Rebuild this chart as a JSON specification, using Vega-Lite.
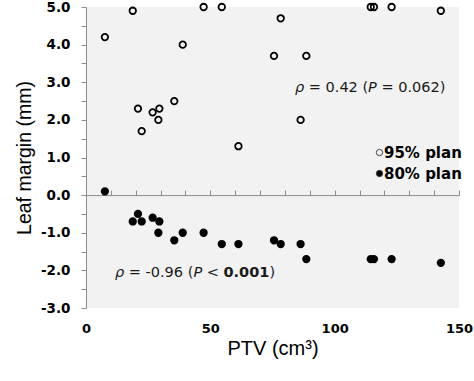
{
  "$schema": "https://vega.github.io/schema/vega-lite/v6.json",
  "width": 373,
  "height": 301,
  "autosize": "none",
  "padding": {"left": 86, "top": 7, "right": 15, "bottom": 73},
  "background": "white",
  "config": {
    "view": {"fill": "#f2f2f2", "stroke": null},
    "font": "DejaVu Sans"
  },
  "data": {
    "values": [
      {"ptv": 7.6, "margin": 4.2, "plan": "95% plan"},
      {"ptv": 18.8, "margin": 4.9, "plan": "95% plan"},
      {"ptv": 20.9, "margin": 2.3, "plan": "95% plan"},
      {"ptv": 22.4, "margin": 1.7, "plan": "95% plan"},
      {"ptv": 26.8, "margin": 2.2, "plan": "95% plan"},
      {"ptv": 29.1, "margin": 2.0, "plan": "95% plan"},
      {"ptv": 29.5, "margin": 2.3, "plan": "95% plan"},
      {"ptv": 35.5, "margin": 2.5, "plan": "95% plan"},
      {"ptv": 38.9, "margin": 4.0, "plan": "95% plan"},
      {"ptv": 47.3, "margin": 5.0, "plan": "95% plan"},
      {"ptv": 54.6, "margin": 5.0, "plan": "95% plan"},
      {"ptv": 61.3, "margin": 1.3, "plan": "95% plan"},
      {"ptv": 75.6, "margin": 3.7, "plan": "95% plan"},
      {"ptv": 78.3, "margin": 4.7, "plan": "95% plan"},
      {"ptv": 86.3, "margin": 2.0, "plan": "95% plan"},
      {"ptv": 88.6, "margin": 3.7, "plan": "95% plan"},
      {"ptv": 114.5, "margin": 5.0, "plan": "95% plan"},
      {"ptv": 115.8, "margin": 5.0, "plan": "95% plan"},
      {"ptv": 122.9, "margin": 5.0, "plan": "95% plan"},
      {"ptv": 142.7, "margin": 4.9, "plan": "95% plan"},
      {"ptv": 7.6, "margin": 0.1, "plan": "80% plan"},
      {"ptv": 18.8, "margin": -0.7, "plan": "80% plan"},
      {"ptv": 20.9, "margin": -0.5, "plan": "80% plan"},
      {"ptv": 22.4, "margin": -0.7, "plan": "80% plan"},
      {"ptv": 26.8, "margin": -0.6, "plan": "80% plan"},
      {"ptv": 29.1, "margin": -1.0, "plan": "80% plan"},
      {"ptv": 29.5, "margin": -0.7, "plan": "80% plan"},
      {"ptv": 35.5, "margin": -1.2, "plan": "80% plan"},
      {"ptv": 38.9, "margin": -1.0, "plan": "80% plan"},
      {"ptv": 47.3, "margin": -1.0, "plan": "80% plan"},
      {"ptv": 54.6, "margin": -1.3, "plan": "80% plan"},
      {"ptv": 61.3, "margin": -1.3, "plan": "80% plan"},
      {"ptv": 75.6, "margin": -1.2, "plan": "80% plan"},
      {"ptv": 78.3, "margin": -1.3, "plan": "80% plan"},
      {"ptv": 86.3, "margin": -1.3, "plan": "80% plan"},
      {"ptv": 88.6, "margin": -1.7, "plan": "80% plan"},
      {"ptv": 114.5, "margin": -1.7, "plan": "80% plan"},
      {"ptv": 115.8, "margin": -1.7, "plan": "80% plan"},
      {"ptv": 122.9, "margin": -1.7, "plan": "80% plan"},
      {"ptv": 142.7, "margin": -1.8, "plan": "80% plan"}
    ]
  },
  "resolve": {"axis": {"x": "independent"}},
  "encoding": {
    "x": {
      "field": "ptv", "type": "quantitative",
      "scale": {"domain": [0, 150], "nice": false, "zero": false},
      "axis": {
        "orient": "bottom", "values": [0, 50, 100, 150], "format": "d",
        "ticks": false, "domain": false, "grid": false, "labelFlush": false,
        "labelFont": "DejaVu Sans", "labelFontWeight": "bold", "labelFontSize": 13,
        "labelColor": "black", "labelPadding": 14,
        "title": "PTV (cm³)", "titleFont": "Liberation Sans", "titleFontSize": 20,
        "titleFontWeight": "normal", "titleColor": "black", "titlePadding": 3
      }
    },
    "y": {
      "field": "margin", "type": "quantitative",
      "scale": {"domain": [-3, 5], "nice": false, "zero": false},
      "axis": {
        "values": [-3, -2.5, -2, -1.5, -1, -0.5, 0, 0.5, 1, 1.5, 2, 2.5, 3, 3.5, 4, 4.5, 5],
        "labelExpr": "datum.value % 1 == 0 ? replace(format(datum.value, '.1f'), '\u2212', '-') : ''",
        "grid": false, "tickSize": 5, "tickColor": "#8c8c8c", "domainColor": "#8c8c8c",
        "labelFlush": false,
        "labelFont": "DejaVu Sans", "labelFontWeight": "bold", "labelFontSize": 13.5,
        "labelColor": "black", "labelPadding": 11,
        "title": "Leaf margin (mm)", "titleFont": "Liberation Sans", "titleFontSize": 19.5,
        "titleFontWeight": "normal", "titleColor": "black", "titlePadding": 6
      }
    }
  },
  "layer": [
    {
      "mark": {"type": "point", "opacity": 0},
      "encoding": {
        "x": {
          "field": "ptv", "type": "quantitative",
          "scale": {"domain": [0, 150], "nice": false, "zero": false},
          "axis": {
            "orient": "top", "offset": -188.1, "title": null, "labels": false,
            "values": [0, 10, 20, 30, 40, 50, 60, 70, 80, 90, 100, 110, 120, 130, 140, 150],
            "tickSize": 5, "tickColor": "#8c8c8c", "domainColor": "#8c8c8c",
            "grid": false
          }
        }
      }
    },
    {
      "mark": {"type": "point", "shape": "circle", "filled": true, "size": 42, "stroke": "black", "strokeWidth": 1.8, "opacity": 1},
      "encoding": {
        "fill": {
          "field": "plan", "type": "nominal",
          "scale": {"domain": ["95% plan", "80% plan"], "range": ["transparent", "black"]},
          "legend": {
            "title": null, "orient": "none", "legendX": 286, "legendY": 138,
            "padding": 0, "symbolType": "circle", "symbolSize": 40,
            "symbolStrokeColor": "#444", "symbolStrokeWidth": 1,
            "labelFont": "DejaVu Sans", "labelFontWeight": "bold", "labelFontSize": 15,
            "labelColor": "black", "labelOffset": -3, "rowPadding": 5
          }
        }
      }
    },
    {
      "data": {"values": [
        {"ptv": 84.05, "margin": 2.84, "t": "ρ"},
        {"ptv": 113.45, "margin": 2.84, "t": "P"},
        {"ptv": 11.66, "margin": -2.08, "t": "ρ"},
        {"ptv": 43.19, "margin": -2.08, "t": "P"}
      ]},
      "mark": {"type": "text", "align": "left", "baseline": "middle", "font": "DejaVu Sans", "fontSize": 14.5, "fontStyle": "italic", "color": "#1a1a1a"},
      "encoding": {
        "x": {"field": "ptv", "type": "quantitative", "scale": {"domain": [0, 150], "nice": false, "zero": false}, "axis": null},
        "text": {"field": "t"}
      }
    },
    {
      "data": {"values": [
        {"ptv": 89.6, "margin": 2.84, "t": "= 0.42 ("},
        {"ptv": 118.8, "margin": 2.84, "t": "= 0.062)"},
        {"ptv": 17.21, "margin": -2.08, "t": "= -0.96 ("},
        {"ptv": 48.54, "margin": -2.08, "t": "<"},
        {"ptv": 73.75, "margin": -2.08, "t": ")"}
      ]},
      "mark": {"type": "text", "align": "left", "baseline": "middle", "font": "DejaVu Sans", "fontSize": 14.5, "color": "#1a1a1a"},
      "encoding": {
        "x": {"field": "ptv", "type": "quantitative", "scale": {"domain": [0, 150], "nice": false, "zero": false}, "axis": null},
        "text": {"field": "t"}
      }
    },
    {
      "data": {"values": [
        {"ptv": 55.3, "margin": -2.08, "t": "0.001"}
      ]},
      "mark": {"type": "text", "align": "left", "baseline": "middle", "font": "DejaVu Sans", "fontSize": 14.5, "fontWeight": "bold", "color": "#1a1a1a"},
      "encoding": {
        "x": {"field": "ptv", "type": "quantitative", "scale": {"domain": [0, 150], "nice": false, "zero": false}, "axis": null},
        "text": {"field": "t"}
      }
    }
  ]
}
